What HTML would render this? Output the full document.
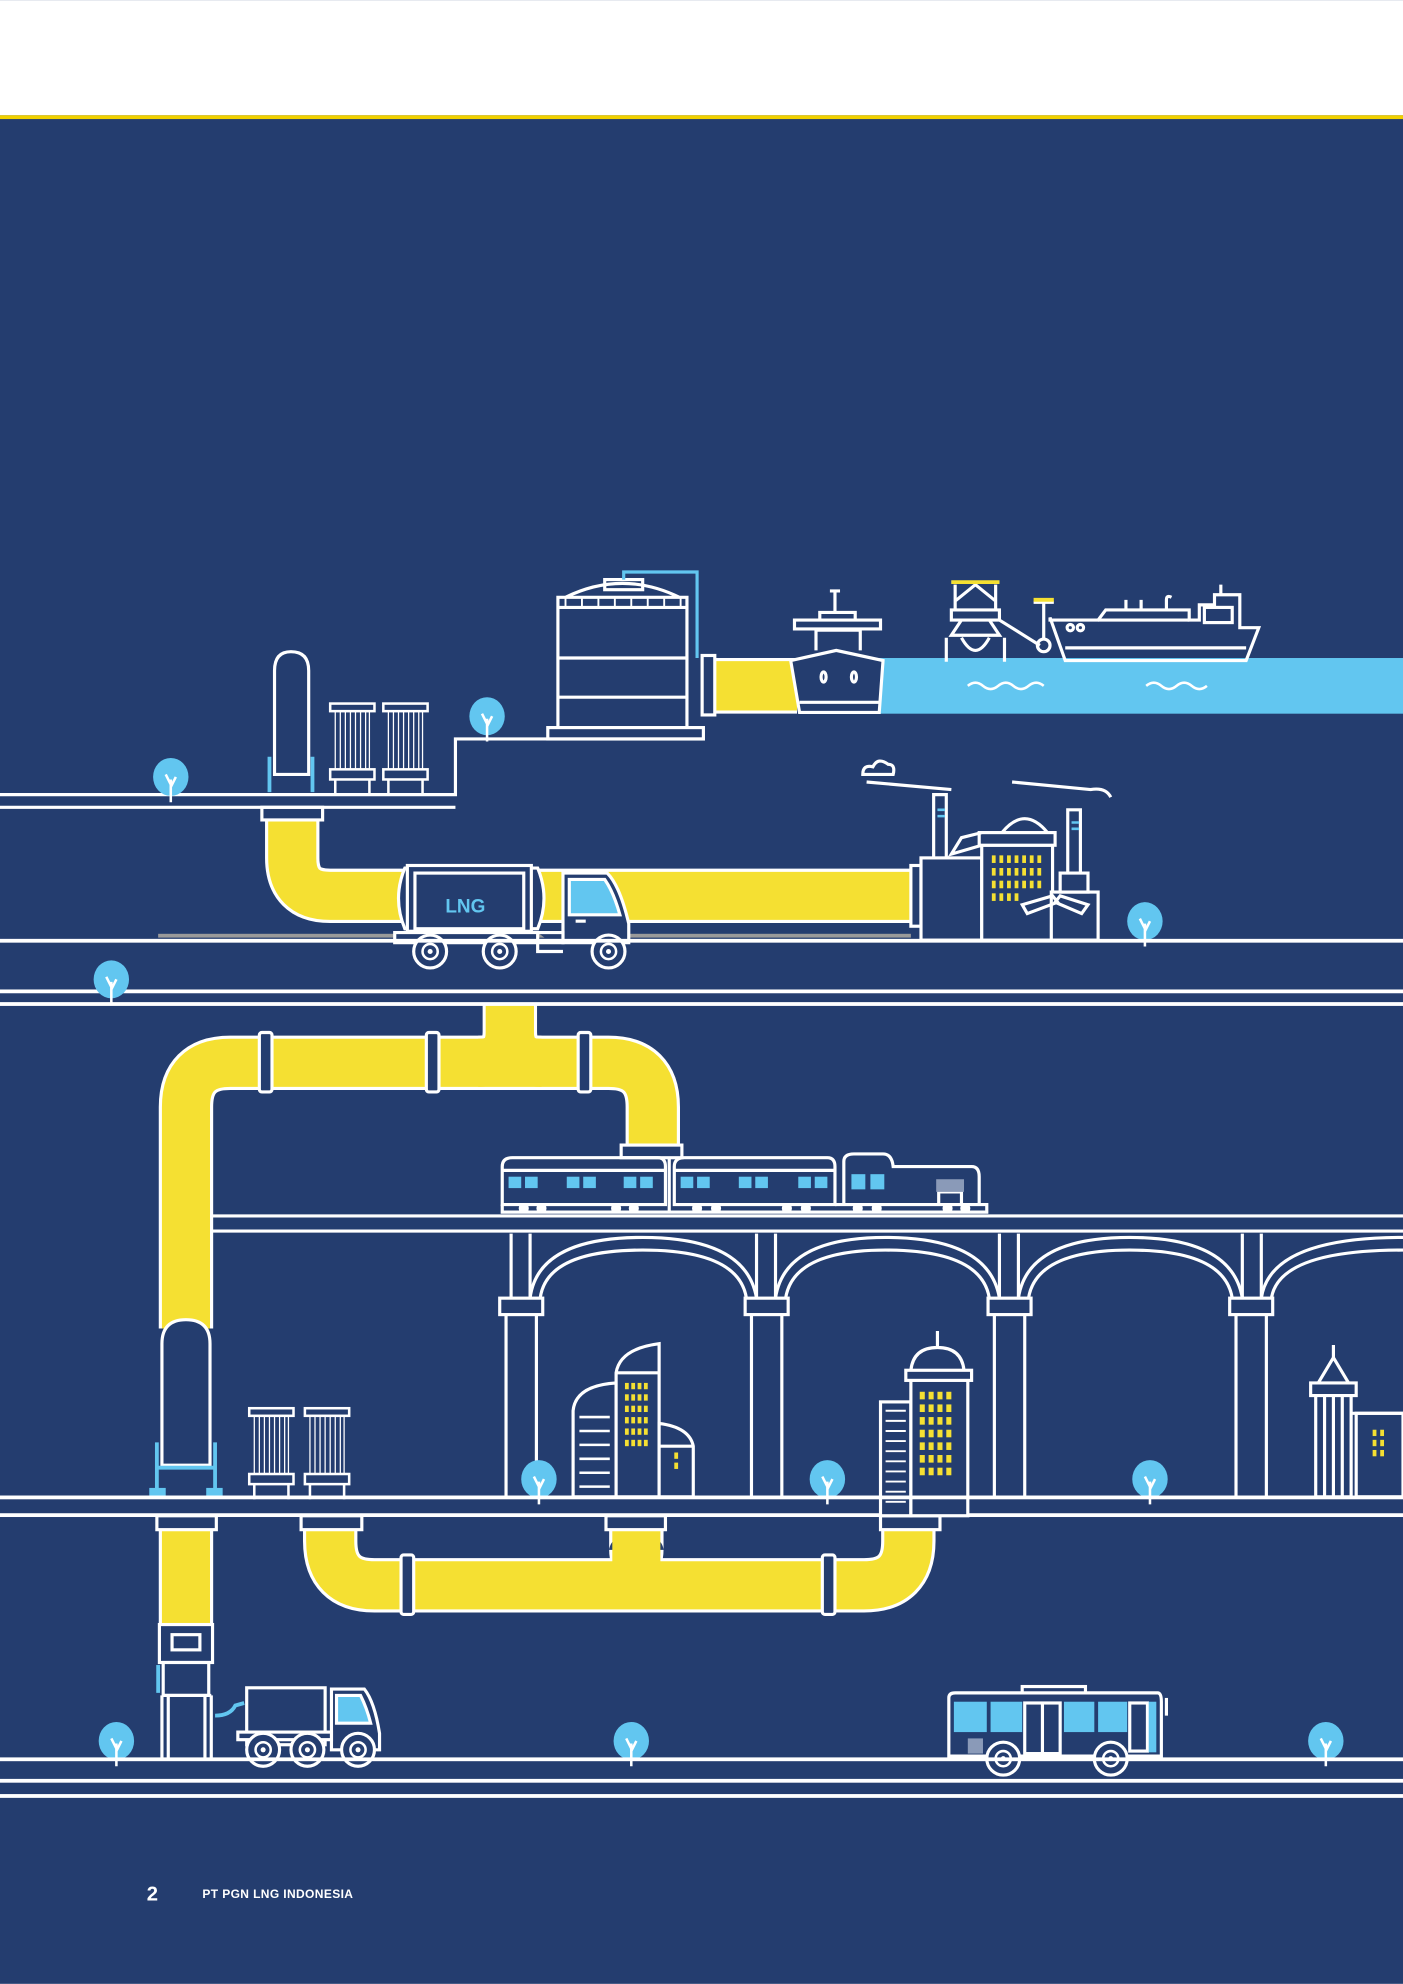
<!DOCTYPE html>
<html><head><meta charset="utf-8"><style>
html,body{margin:0;padding:0;background:#fff}
svg{display:block}
</style></head><body>
<svg width="1403" height="1984" viewBox="0 0 1109 1568" xmlns="http://www.w3.org/2000/svg" font-family="Liberation Sans, sans-serif">
<defs>
<g id="tree"><ellipse cx="0" cy="-14" rx="14" ry="15" fill="#62c6f0"/><path d="M0,6 V-12 M0,-8 L-4,-16 M0,-6 L4,-14" stroke="#fff" stroke-width="2" fill="none"/></g>
<g id="vap"><rect x="0" y="0" width="35" height="6" fill="none" stroke="#fff" stroke-width="2"/><path d="M4,6V52M8,6V52M12,6V52M16,6V52M20,6V52M24,6V52M28,6V52M31,6V52" stroke="#fff" stroke-width="1"/><rect x="0" y="52" width="35" height="8" fill="none" stroke="#fff" stroke-width="2"/><path d="M4,60V72M31,60V72" stroke="#fff" stroke-width="2"/></g>
<g id="wheel"><circle r="13" fill="#243d6f" stroke="#fff" stroke-width="2.5"/><circle r="6" fill="none" stroke="#fff" stroke-width="2"/><circle r="2" fill="#fff"/></g>
</defs>
<rect width="1109" height="1568" fill="#243d6f"/>
<rect width="1109" height="91" fill="#fff"/>
<rect y="91" width="1109" height="3" fill="#f0d000"/>

<rect x="690" y="520" width="419" height="44" fill="#62c6f0"/>
<path d="M765,542 q6,-5 12,0 q6,5 12,0 q6,-5 12,0 q6,5 12,0 q6,-5 12,0 M906,542 q6,-5 12,0 q6,5 12,0 q6,-5 12,0 q6,5 12,0" stroke="#fff" stroke-width="2" fill="none"/>

<g stroke="#fff" stroke-width="2.5" fill="none">
<path d="M562,542 H630" stroke-width="44"/>
<path d="M562,542 H630" stroke="#f5e032" stroke-width="39"/>
<rect x="555" y="518" width="10" height="47" fill="#243d6f"/>

<path d="M231,645 V678 Q231,708 261,708 H722" stroke-width="43" stroke-linejoin="round"/>
<path d="M231,645 V678 Q231,708 261,708 H722" stroke="#f5e032" stroke-width="38"/>
<rect x="207" y="638" width="48" height="10" fill="#243d6f"/>

<path d="M516,906 V875 Q516,840 481,840 H182 Q147,840 147,875 V1050" stroke-width="43"/>
<path d="M403,794 V815 Q403,840 378,840 M403,815 Q403,840 428,840" stroke-width="43"/>
<path d="M516,906 V875 Q516,840 481,840 H182 Q147,840 147,875 V1050" stroke="#f5e032" stroke-width="38"/>
<path d="M403,794 V815 Q403,840 378,840 M403,815 Q403,840 428,840" stroke="#f5e032" stroke-width="38"/>
<path d="M403,794 V835" stroke="#f5e032" stroke-width="38"/>
<rect x="205" y="816" width="10" height="47" rx="2" fill="#243d6f"/>
<rect x="337" y="816" width="10" height="47" rx="2" fill="#243d6f"/>
<rect x="457" y="816" width="10" height="47" rx="2" fill="#243d6f"/>
<rect x="491" y="905" width="48" height="10" fill="#243d6f"/>

<path d="M147,1200 V1285" stroke-width="43"/>
<path d="M147,1200 V1285" stroke="#f5e032" stroke-width="38"/>
<path d="M261,1205 V1218 Q261,1253 296,1253 H683 Q718,1253 718,1218 V1205 M503,1205 V1225 Q503,1235 493,1235 M503,1225 Q503,1235 513,1235" stroke-width="43"/>
<path d="M261,1205 V1218 Q261,1253 296,1253 H683 Q718,1253 718,1218 V1205 M503,1205 V1240" stroke="#f5e032" stroke-width="38"/>
<rect x="124" y="1198" width="47" height="11" fill="#243d6f"/>
<rect x="238" y="1198" width="48" height="11" fill="#243d6f"/>
<rect x="479" y="1198" width="47" height="11" fill="#243d6f"/>
<rect x="696" y="1198" width="47" height="11" fill="#243d6f"/>
<rect x="317" y="1229" width="10" height="47" rx="2" fill="#243d6f"/>
<rect x="650" y="1229" width="10" height="47" rx="2" fill="#243d6f"/>

<path d="M0,628 H360 V584 H556 M0,638 H360"/>
<rect x="433" y="575" width="123" height="9"/>
<path d="M441,575 V480 H543 V575 M441,520 H543 M441,551 H543 M441,480 V472 H543 V480 M447,472 Q492,450 537,472"/>
<path d="M447,480V472M460,480V472M473,480V472M486,480V472M499,480V472M512,480V472M525,480V472M538,480V472" stroke-width="1.5"/>
<rect x="478" y="458" width="30" height="8"/>
<path d="M493,458 V452 H551 V520" stroke="#62c6f0"/>
<path d="M217,612 V530 Q217,515 230,515 Q244,515 244,530 V612 Z"/>
<path d="M213,598 V626 M247,598 V626" stroke="#62c6f0" stroke-width="3"/>
<path d="M625,522 L632,563 H695 L698,522 L661,514 Z" fill="#243d6f"/>
<path d="M632,555 H695" />
<ellipse cx="651" cy="535" rx="2" ry="4"/><ellipse cx="675" cy="535" rx="2" ry="4"/>
<path d="M645,514 V498 H680 V514 M628,490 H696 V497 H628 Z M648,490 V484 H676 V490 M660,484 V467 M656,467 H664"/>
<path d="M752,460 H790 M755,462 V482 H787 V462 M755,475 L771,462 L787,475 M752,482 H790 V490 H752 Z M760,490 L752,502 H790 L782,490 M748,504 V523 M794,504 V523 M760,504 Q771,524 782,504 M790,490 L822,510"/>
<path d="M752,460 H790" stroke="#f5e032" stroke-width="3"/>
<circle cx="825" cy="510" r="5"/>
<path d="M825,505 V476 M817,476 H833" /><path d="M817,474 H833" stroke="#f5e032" stroke-width="3"/>
<path d="M830,488 L842,522 H985 L995,496 H980 V470 H960 V478 H948 V490 H940 V482 H874 L868,490 H830 Z"/>
<path d="M842,512 H985 M868,490 H940"/>
<circle cx="846" cy="496" r="2.5"/><circle cx="854" cy="496" r="2.5"/>
<rect x="952" y="480" width="22" height="12"/>
<path d="M965,470 V462 M890,482 V474 M902,482 V474 M922,482 V474 Q922,470 926,472"/>
</g>
<use href="#tree" x="135" y="628"/>
<use href="#tree" x="385" y="580"/>
<use href="#vap" x="261" y="556"/>
<use href="#vap" x="303" y="556"/>

<g stroke="#fff" stroke-width="2.5" fill="none">
<rect x="720" y="684" width="8" height="48" fill="#243d6f"/>
<rect x="728" y="678" width="48" height="65" fill="#243d6f"/>
<rect x="776" y="668" width="56" height="75" fill="#243d6f"/>
<rect x="774" y="658" width="60" height="10" fill="#243d6f"/>
<path d="M792,658 Q810,636 828,658"/>
<rect x="831" y="705" width="37" height="38" fill="#243d6f"/>
<path d="M738,678 V628 H748 V678 M838,690 H860 V705 H838 Z M844,690 V640 H854 V690"/>
<path d="M685,618 L752,624 M800,618 L862,624 Q874,622 878,630 M776,668 L752,675 L760,662 L776,658"/>
<path d="M808,715 L832,708 L836,713 L812,722 Z M860,715 L838,708 L834,713 L855,722 Z"/>
<path d="M682,612 q0,-8 8,-6 q4,-8 12,-2 q6,0 4,8 Z"/>
</g>
<path d="M741,640 h6 M741,645 h6 M847,650 h6 M847,655 h6" stroke="#62c6f0" stroke-width="2"/>
<g fill="#f5e032">
<rect x="784" y="676" width="3" height="6"/><rect x="790" y="676" width="3" height="6"/><rect x="796" y="676" width="3" height="6"/><rect x="802" y="676" width="3" height="6"/><rect x="808" y="676" width="3" height="6"/><rect x="814" y="676" width="3" height="6"/><rect x="820" y="676" width="3" height="6"/>
<rect x="784" y="686" width="3" height="6"/><rect x="790" y="686" width="3" height="6"/><rect x="796" y="686" width="3" height="6"/><rect x="802" y="686" width="3" height="6"/><rect x="808" y="686" width="3" height="6"/><rect x="814" y="686" width="3" height="6"/><rect x="820" y="686" width="3" height="6"/>
<rect x="784" y="696" width="3" height="6"/><rect x="790" y="696" width="3" height="6"/><rect x="796" y="696" width="3" height="6"/><rect x="802" y="696" width="3" height="6"/><rect x="808" y="696" width="3" height="6"/><rect x="814" y="696" width="3" height="6"/><rect x="820" y="696" width="3" height="6"/>
<rect x="784" y="706" width="3" height="6"/><rect x="790" y="706" width="3" height="6"/><rect x="796" y="706" width="3" height="6"/><rect x="802" y="706" width="3" height="6"/>
</g>
<use href="#tree" x="905" y="742"/>

<rect x="125" y="738" width="595" height="3" fill="#9a9a9a"/>
<g stroke="#fff" stroke-width="2.5" fill="#243d6f">
<path d="M320,686 Q310,710 320,734 H425 Q435,710 425,686 Z"/>
<rect x="322" y="684" width="98" height="52"/>
<rect x="328" y="690" width="86" height="44"/>
<path d="M445,690 H480 Q490,700 497,730 V745 H445 Z"/>
<path d="M450,695 H478 Q485,705 490,723 H450 Z" fill="#62c6f0"/>
<path d="M312,737 H445 V745 H312 Z M425,737 V752 H445"/>
<path d="M455,728 h8"/>
</g>
<text x="352" y="721" fill="#62c6f0" font-size="15" font-weight="bold">LNG</text>
<use href="#wheel" x="340" y="752"/><use href="#wheel" x="395" y="752"/><use href="#wheel" x="481" y="752"/>

<g fill="#fff"><rect y="742" width="1109" height="3"/><rect y="782" width="1109" height="3"/><rect y="792" width="1109" height="3"/></g>
<use href="#tree" x="88" y="788"/>

<g stroke="#fff" stroke-width="2.5" fill="none">
<path d="M167,961 H1109 M167,973 H1109"/>
<path d="M404,975 V1026 M419,975 V1026 M598,975 V1026 M613,975 V1026 M790,975 V1026 M805,975 V1026 M982,975 V1026 M997,975 V1026"/>
<path d="M419,1026 Q425,978 508,978 Q590,978 598,1026 M427,1026 Q432,988 508,988 Q584,988 590,1026"/>
<path d="M613,1026 Q620,978 700,978 Q782,978 790,1026 M621,1026 Q627,988 700,988 Q776,988 782,1026"/>
<path d="M805,1026 Q812,978 893,978 Q974,978 982,1026 M813,1026 Q819,988 893,988 Q968,988 974,1026"/>
<path d="M997,1026 Q1004,978 1109,978 M1005,1026 Q1011,988 1109,988"/>
<rect x="395" y="1026" width="34" height="13" fill="#243d6f"/><rect x="589" y="1026" width="34" height="13" fill="#243d6f"/><rect x="781" y="1026" width="34" height="13" fill="#243d6f"/><rect x="972" y="1026" width="34" height="13" fill="#243d6f"/>
<path d="M400,1039 V1183 M424,1039 V1183 M594,1039 V1183 M618,1039 V1183 M786,1039 V1183 M810,1039 V1183 M977,1039 V1183 M1001,1039 V1183"/>
<path d="M397,952 V922 Q397,915 405,915 H520 Q526,915 526,922 V952 Z M397,925 H526"/>
<path d="M533,952 V922 Q533,915 541,915 H654 Q660,915 660,922 V952 Z M533,925 H660"/>
<path d="M667,952 V918 Q667,912 675,912 H698 Q705,912 706,922 H768 Q774,922 774,930 V952 Z M660,952 H780 V958 H397 V952"/>
<path d="M742,952 V942 H760 V952 M529,915 V958"/>
</g>
<g fill="#62c6f0">
<rect x="402" y="930" width="10" height="9"/><rect x="415" y="930" width="10" height="9"/><rect x="448" y="930" width="10" height="9"/><rect x="461" y="930" width="10" height="9"/><rect x="493" y="930" width="10" height="9"/><rect x="506" y="930" width="10" height="9"/>
<rect x="538" y="930" width="10" height="9"/><rect x="551" y="930" width="10" height="9"/><rect x="584" y="930" width="10" height="9"/><rect x="597" y="930" width="10" height="9"/><rect x="631" y="930" width="10" height="9"/><rect x="644" y="930" width="10" height="9"/>
<rect x="673" y="928" width="11" height="12"/><rect x="688" y="928" width="11" height="12"/>
</g>
<g fill="#fff"><circle cx="414" cy="955" r="4"/><circle cx="428" cy="955" r="4"/><circle cx="487" cy="955" r="4"/><circle cx="501" cy="955" r="4"/><circle cx="551" cy="955" r="4"/><circle cx="566" cy="955" r="4"/><circle cx="622" cy="955" r="4"/><circle cx="637" cy="955" r="4"/><circle cx="678" cy="955" r="4"/><circle cx="693" cy="955" r="4"/><circle cx="749" cy="955" r="4"/><circle cx="763" cy="955" r="4"/></g>
<rect x="740" y="932" width="22" height="10" fill="#8a9ab8"/>

<g stroke="#fff" stroke-width="2.5" fill="#243d6f">
<path d="M128,1158 V1062 Q128,1043 147,1043 Q166,1043 166,1062 V1158 Z"/>
</g>
<path d="M124,1140 V1180 M170,1140 V1180 M124,1160 H170" stroke="#62c6f0" stroke-width="3" fill="none"/>
<rect x="118" y="1176" width="13" height="7" fill="#62c6f0"/><rect x="163" y="1176" width="13" height="7" fill="#62c6f0"/>
<use href="#vap" x="197" y="1113"/><use href="#vap" x="241" y="1113"/>

<g stroke="#fff" stroke-width="2.5" fill="#243d6f">
<path d="M453,1183 V1115 Q455,1095 487,1093 V1183 Z"/>
<path d="M487,1183 V1085 Q490,1066 521,1062 V1183 Z M487,1085 H521"/>
<path d="M521,1183 V1125 Q545,1128 548,1143 V1183 Z M521,1143 H548"/>
<path d="M458,1120h24M458,1131h24M458,1142h24M458,1153h24M458,1164h24M458,1175h24" fill="none" stroke-width="2"/>
<rect x="696" y="1108" width="24" height="90"/>
<rect x="720" y="1090" width="45" height="108"/>
<rect x="716" y="1083" width="52" height="8"/>
<path d="M720,1083 Q722,1065 741,1065 Q760,1065 762,1083 M741,1065 V1052" fill="none"/>
<path d="M700,1115h16M700,1123h16M700,1131h16M700,1139h16M700,1147h16M700,1155h16M700,1163h16M700,1171h16M700,1179h16M700,1187h16" fill="none" stroke-width="1.5"/>
<path d="M1040,1183 V1103 H1068 V1183 Z M1036,1093 H1072 V1103 H1036 Z M1042,1093 L1054,1073 L1066,1093 M1054,1073 V1063 M1047,1103 V1183 M1054,1103 V1183 M1061,1103 V1183" />
<rect x="1072" y="1117" width="37" height="66"/>
<path d="M1068,1117 H1109" fill="none"/>
</g>
<g fill="#f5e032">
<rect x="494" y="1093" width="3" height="5"/><rect x="499" y="1093" width="3" height="5"/><rect x="504" y="1093" width="3" height="5"/><rect x="509" y="1093" width="3" height="5"/>
<rect x="494" y="1102" width="3" height="5"/><rect x="499" y="1102" width="3" height="5"/><rect x="504" y="1102" width="3" height="5"/><rect x="509" y="1102" width="3" height="5"/>
<rect x="494" y="1111" width="3" height="5"/><rect x="499" y="1111" width="3" height="5"/><rect x="504" y="1111" width="3" height="5"/><rect x="509" y="1111" width="3" height="5"/>
<rect x="494" y="1120" width="3" height="5"/><rect x="499" y="1120" width="3" height="5"/><rect x="504" y="1120" width="3" height="5"/><rect x="509" y="1120" width="3" height="5"/>
<rect x="494" y="1129" width="3" height="5"/><rect x="499" y="1129" width="3" height="5"/><rect x="504" y="1129" width="3" height="5"/><rect x="509" y="1129" width="3" height="5"/>
<rect x="494" y="1138" width="3" height="5"/><rect x="499" y="1138" width="3" height="5"/><rect x="504" y="1138" width="3" height="5"/><rect x="509" y="1138" width="3" height="5"/>
<rect x="533" y="1148" width="3" height="5"/><rect x="533" y="1156" width="3" height="5"/>
<rect x="727" y="1100" width="4" height="6"/><rect x="734" y="1100" width="4" height="6"/><rect x="741" y="1100" width="4" height="6"/><rect x="748" y="1100" width="4" height="6"/>
<rect x="727" y="1110" width="4" height="6"/><rect x="734" y="1110" width="4" height="6"/><rect x="741" y="1110" width="4" height="6"/><rect x="748" y="1110" width="4" height="6"/>
<rect x="727" y="1120" width="4" height="6"/><rect x="734" y="1120" width="4" height="6"/><rect x="741" y="1120" width="4" height="6"/><rect x="748" y="1120" width="4" height="6"/>
<rect x="727" y="1130" width="4" height="6"/><rect x="734" y="1130" width="4" height="6"/><rect x="741" y="1130" width="4" height="6"/><rect x="748" y="1130" width="4" height="6"/>
<rect x="727" y="1140" width="4" height="6"/><rect x="734" y="1140" width="4" height="6"/><rect x="741" y="1140" width="4" height="6"/><rect x="748" y="1140" width="4" height="6"/>
<rect x="727" y="1150" width="4" height="6"/><rect x="734" y="1150" width="4" height="6"/><rect x="741" y="1150" width="4" height="6"/><rect x="748" y="1150" width="4" height="6"/>
<rect x="727" y="1160" width="4" height="6"/><rect x="734" y="1160" width="4" height="6"/><rect x="741" y="1160" width="4" height="6"/><rect x="748" y="1160" width="4" height="6"/>
<rect x="1085" y="1130" width="3" height="5"/><rect x="1091" y="1130" width="3" height="5"/><rect x="1085" y="1138" width="3" height="5"/><rect x="1091" y="1138" width="3" height="5"/><rect x="1085" y="1146" width="3" height="5"/><rect x="1091" y="1146" width="3" height="5"/>
</g>
<use href="#tree" x="426" y="1183"/><use href="#tree" x="654" y="1183"/><use href="#tree" x="909" y="1183"/>

<rect x="0" y="1182" width="1109" height="3" fill="#fff"/>
<rect x="0" y="1196" width="696" height="3" fill="#fff"/>
<rect x="765" y="1196" width="344" height="3" fill="#fff"/>

<g stroke="#fff" stroke-width="2.5" fill="#243d6f">
<rect x="126" y="1284" width="42" height="30"/>
<rect x="136" y="1292" width="22" height="12"/>
<rect x="129" y="1314" width="36" height="26"/>
<path d="M128,1340 H167 M128,1340 V1390 M133,1340 V1390 M162,1340 V1390 M167,1340 V1390" fill="none"/>
</g>
<path d="M125,1316 V1338" stroke="#62c6f0" stroke-width="3"/>
<path d="M170,1356 Q182,1356 186,1348 L193,1346" stroke="#62c6f0" stroke-width="3" fill="none"/>
<g stroke="#fff" stroke-width="2.5" fill="#243d6f">
<rect x="195" y="1334" width="62" height="45"/>
<path d="M262,1335 H288 Q296,1345 300,1370 V1383 H262 Z"/>
<path d="M266,1340 H285 Q290,1350 293,1362 H266 Z" fill="#62c6f0"/>
<rect x="188" y="1369" width="74" height="6"/>
</g>
<use href="#wheel" x="208" y="1383"/><use href="#wheel" x="243" y="1383"/><use href="#wheel" x="283" y="1383"/>
<g stroke="#fff" stroke-width="2.5" fill="#243d6f">
<path d="M750,1388 V1342 Q750,1338 755,1338 H915 Q918,1338 918,1345 V1388 Z"/>
<rect x="808" y="1333" width="50" height="5"/>
<rect x="810" y="1346" width="28" height="40" fill="none"/>
<path d="M824,1346 V1386" fill="none"/>
<rect x="893" y="1346" width="14" height="38" fill="none"/>
<path d="M922,1342 V1356" fill="none"/>
</g>
<g fill="#62c6f0"><rect x="754" y="1345" width="26" height="24"/><rect x="783" y="1345" width="25" height="24"/><rect x="841" y="1345" width="24" height="24"/><rect x="868" y="1345" width="23" height="24"/><rect x="908" y="1345" width="6" height="40"/></g>
<rect x="765" y="1374" width="12" height="12" fill="#8a9ab8"/>
<use href="#wheel" x="793" y="1390"/><use href="#wheel" x="878" y="1390"/>
<use href="#tree" x="92" y="1390"/><use href="#tree" x="499" y="1390"/><use href="#tree" x="1048" y="1390"/>

<g fill="#fff"><rect y="1389" width="1109" height="3"/><rect y="1406" width="1109" height="3"/><rect y="1418" width="1109" height="3"/></g>

<text x="116" y="1502" fill="#fff" font-size="16" font-weight="bold">2</text>
<text x="160" y="1500" fill="#fff" font-size="9.5" font-weight="bold" letter-spacing="0.3">PT PGN LNG INDONESIA</text>
</svg>
</body></html>
